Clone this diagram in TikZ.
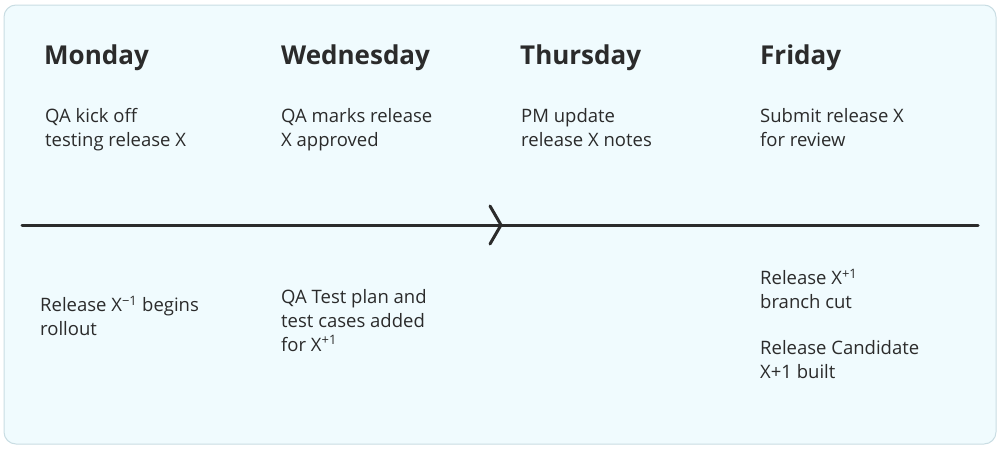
\documentclass[tikz,border=0pt]{standalone}
\usepackage{fontspec}
\setmainfont{Open Sans}
\definecolor{bgc}{HTML}{F0FBFE}
\definecolor{bdc}{HTML}{C9DDE3}
\definecolor{ink}{HTML}{2B2B2B}
\begin{document}
\begin{tikzpicture}[x=1pt,y=-1pt,
  head/.style={anchor=west,font=\fontsize{26}{30}\selectfont\bfseries,text=ink,inner sep=0},
  body/.style={anchor=north west,font=\fontsize{18.5}{24}\selectfont,text=ink,inner sep=0,align=left}]
\useasboundingbox (0,0) rectangle (1000,450);
\draw[bdc,fill=bgc,line width=1pt,rounded corners=12] (4,5) rectangle (996,444);
\node[head] (mon) at (44,58) {Monday};
\node[head] (wed) at (281,58) {Wednesday};
\node[head] (thu) at (520,58) {Thursday};
\node[head] (fri) at (760,58) {Friday};
\node[body] (t1) at (45,108) {QA kick off\\testing release X};
\node[body] (t2) at (281,108) {QA marks release\\X approved};
\node[body] (t3) at (521,108) {PM update\\release X notes};
\node[body] (t4) at (760,108) {Submit release X\\for review};
\coordinate (ls) at (22,225);
\coordinate (le) at (978,225);
\draw[ink,line width=3pt,line cap=round] (ls) -- (le);
\draw[ink,line width=3pt,line cap=round,line join=round] (490,206) -- (501,225) -- (490,244);
\node[body] (b1) at (40,296) {Release X\textsuperscript{−1} begins\\rollout};
\node[body] (b2) at (281,289) {QA Test plan and\\test cases added\\for X\textsuperscript{+1}};
\node[body] (b3) at (760,269) {Release X\textsuperscript{+1}\\branch cut};
\node[body] (b4) at (760,340) {Release Candidate\\X+1 built};
\end{tikzpicture}
\end{document}
